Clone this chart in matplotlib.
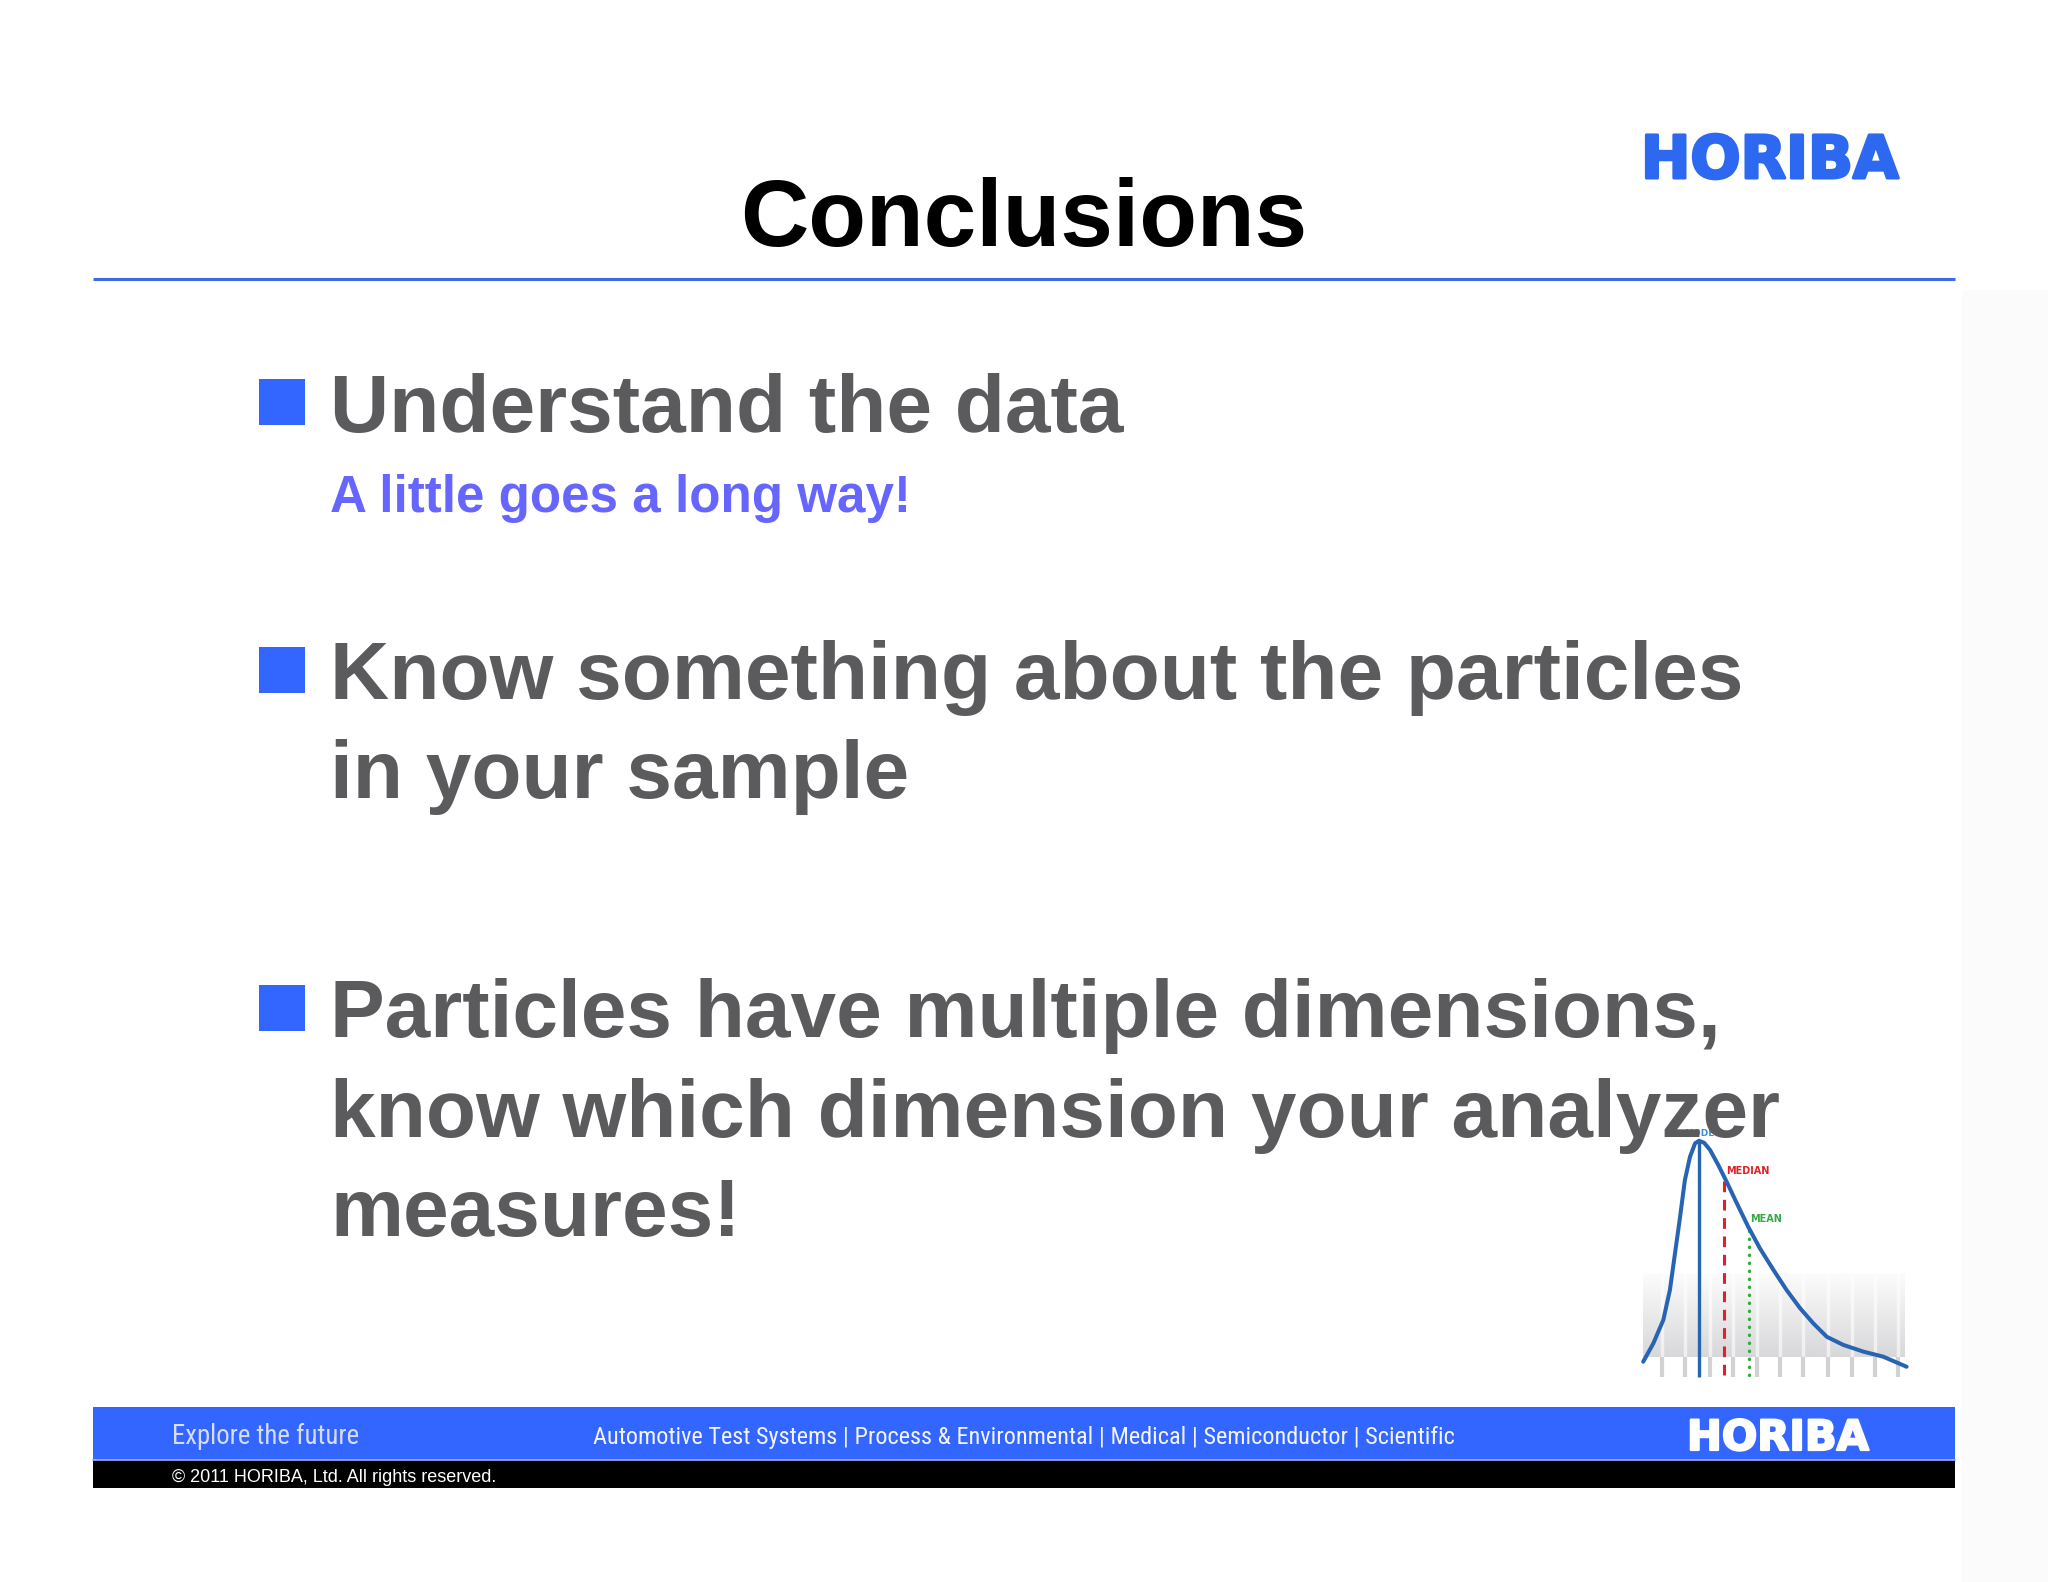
import matplotlib
matplotlib.use("Agg")
import matplotlib.pyplot as plt
import numpy as np
from matplotlib import font_manager
from matplotlib import patheffects
from matplotlib.patches import Rectangle
from matplotlib.colors import LinearSegmentedColormap

# slide text
title = "Conclusions"
bullets = [
    ["Understand the data"],
    ["Know something about the particles", "in your sample"],
    ["Particles have multiple dimensions,", "know which dimension your analyzer", "measures!"],
]
subtitle = "A little goes a long way!"
footer_left = "Explore the future"
footer_mid = "Automotive Test Systems | Process & Environmental | Medical | Semiconductor | Scientific"
copyright_txt = "\u00a9 2011 HORIBA, Ltd. All rights reserved."
logo = "HORIBA"

# little distribution sketch (x: size 0-100, y: frequency 0-100)
curve_x = [4.4, 7.8, 11.1, 13.3, 15.0, 16.7, 18.3, 20.0, 21.7, 23.0, 24.7, 26.7, 29.4,
           32.2, 35.6, 39.4, 43.3, 47.8, 52.2, 56.7, 61.1, 65.6, 71.1, 77.8, 84.4, 92.2]
curve_y = [10.1, 16.7, 25.0, 35.7, 48.8, 61.9, 75.0, 83.3, 88.1, 89.0, 88.3, 85.7, 80.4,
           74.4, 66.7, 58.3, 50.6, 42.9, 35.7, 29.2, 23.8, 19.0, 16.1, 13.7, 11.9, 8.3]
stat_names = ["MODE", "MEDIAN", "MEAN"]
stat_x = [23.0, 31.2, 39.7]
stat_top = [89.0, 76.2, 58.3]
bar_x = [10.6, 18.3, 26.7, 34.4, 42.2, 50.0, 57.8, 66.1, 73.9, 81.7, 89.4]

BLUE = "#3366ff"
GRAY = "#5b5b5d"


def pick_condensed():
    # footer uses a condensed face; fall back to a smaller regular one
    for fam in ["Liberation Sans Narrow", "Roboto Condensed", "Open Sans Condensed",
                "Noto Sans Condensed"]:
        try:
            font_manager.findfont(font_manager.FontProperties(family=fam),
                                  fallback_to_default=False)
            return fam, 1.0
        except ValueError:
            pass
    return "Liberation Sans", 0.77


cond_family, cond_scale = pick_condensed()

fig = plt.figure(figsize=(20.48, 15.82), dpi=100, facecolor="white")
ax = fig.add_axes([0, 0, 1, 1])
ax.set_xlim(0, 2048)
ax.set_ylim(1582, 0)
ax.axis("off")

# faint page edge on the right
ax.add_patch(Rectangle((1962, 290), 86, 1292, color="#fbfbfb", lw=0))

# header
fig.text(1024, 246, title, transform=ax.transData, ha="center", va="baseline",
         fontsize=68, fontweight="bold", family="Liberation Sans", color="black")
fig.text(1641, 178, logo, transform=ax.transData, ha="left", va="baseline",
         fontsize=42.5, fontweight="bold", family="DejaVu Sans", color="#2d69f0",
         path_effects=[patheffects.withStroke(linewidth=2.2, foreground="#2d69f0")])
ax.plot([93, 1955], [279, 279], color="#3f6ae6", lw=2.2, solid_capstyle="butt")

# bullets
square_top = [379, 647, 985]
baselines = [[432], [699, 798], [1037, 1137, 1236]]
for top, lines, bases in zip(square_top, bullets, baselines):
    ax.add_patch(Rectangle((259, top), 46, 46, color=BLUE, lw=0))
    for s, b in zip(lines, bases):
        fig.text(330, b, s, transform=ax.transData, ha="left", va="baseline",
                 fontsize=59, fontweight="bold", family="Liberation Sans", color=GRAY)
fig.text(330, 512, subtitle, transform=ax.transData, ha="left", va="baseline",
         fontsize=36.8, fontweight="bold", family="Liberation Sans", color="#6666ff")

# footer
ax.add_patch(Rectangle((93, 1407), 1862, 53, color=BLUE, lw=0))
ax.add_patch(Rectangle((93, 1460), 1862, 28, color="black", lw=0))
ax.plot([93, 1955], [1460, 1460], color="#9fb0ff", lw=1.2)
fig.text(172, 1444, footer_left, transform=ax.transData, ha="left", va="baseline",
         fontsize=19.3 * cond_scale, family=cond_family, color="#d4dcff")
fig.text(593, 1444, footer_mid, transform=ax.transData, ha="left", va="baseline",
         fontsize=17.45 * cond_scale, family=cond_family, color="#f2f4ff")
fig.text(1687, 1450, logo, transform=ax.transData, ha="left", va="baseline",
         fontsize=30, fontweight="bold", family="DejaVu Sans", color="white",
         path_effects=[patheffects.withStroke(linewidth=1.6, foreground="white")])
fig.text(172, 1482, copyright_txt, transform=ax.transData, ha="left", va="baseline",
         fontsize=13, family="Liberation Sans", color="white")

# distribution sketch
ins = fig.add_axes([1630 / 2048, (1582 - 1390) / 1582, 300 / 2048, 280 / 1582])
ins.set_xlim(0, 100)
ins.set_ylim(0, 100)
ins.axis("off")
grad = LinearSegmentedColormap.from_list("g", ["#d8d8da", "#fcfcfc"])
ins.imshow(np.linspace(0, 1, 64).reshape(-1, 1), extent=[4.4, 91.7, 11.9, 41.7],
           origin="lower", aspect="auto", cmap=grad, zorder=0)
ins.vlines(bar_x, 11.9, 41.7, color="white", lw=2.5, alpha=0.6, zorder=1)
ins.vlines(bar_x, 4.8, 11.9, color="#d2d2d2", lw=3.0, zorder=1)
ins.vlines(stat_x[0], 4.8, stat_top[0], color="#2864b4", lw=2.4, zorder=3)
ins.vlines(stat_x[1], 5.4, stat_top[1], color="#e0202a", lw=2.2,
           linestyles=[(0, (3.5, 2.5))], zorder=3)
ins.plot([stat_x[2], stat_x[2]], [5.4, stat_top[2]], color="#33aa44", lw=2.4,
         linestyle=(0, (0.1, 2.3)), dash_capstyle="round", zorder=3)
ins.plot(curve_x, curve_y, color="#2864b4", lw=2.9, solid_capstyle="round",
         solid_joinstyle="round", zorder=4)
ins.text(18.0, 91.7, stat_names[0], fontsize=6.5, fontweight="bold", color="#3b8fd6",
         va="center", ha="left", zorder=2)
ins.text(32.2, 78.3, stat_names[1], fontsize=7, fontweight="bold", color="#e0202a",
         va="center", ha="left")
ins.text(40.0, 61.0, stat_names[2], fontsize=7, fontweight="bold", color="#33aa44",
         va="center", ha="left")

fig.savefig("out.png", dpi=100, facecolor="white")
